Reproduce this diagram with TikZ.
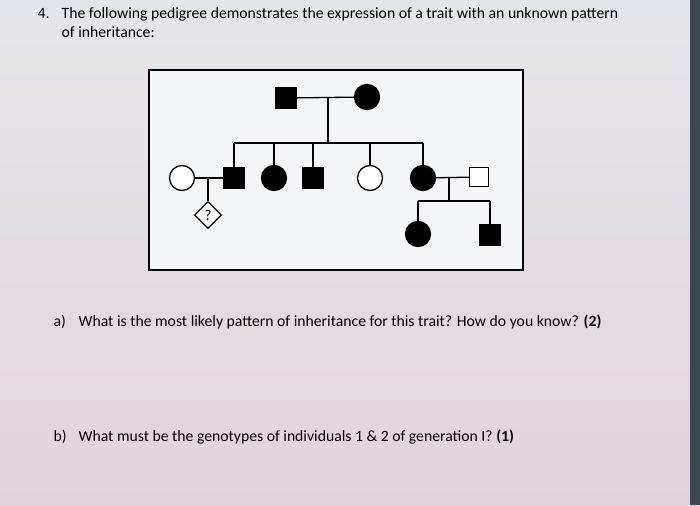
\documentclass[tikz,border=0pt]{standalone}
\usepackage{fontspec}
\setmainfont{Carlito}
\usepackage{tikz}
\usetikzlibrary{shapes.geometric}
\definecolor{paperTop}{RGB}{228,229,234}
\definecolor{paperBot}{RGB}{226,212,220}
\definecolor{pageEdge}{RGB}{58,72,78}
\tikzset{
  male/.style={draw=black,line width=1.3pt,rectangle,minimum size=20pt,inner sep=0pt},
  female/.style={draw=black,line width=1.3pt,circle,minimum size=25pt,inner sep=0pt},
  affected/.style={fill=black},
  normal/.style={fill=white},
  unknown/.style={draw=black,line width=1.1pt,diamond,fill=white,minimum width=27pt,minimum height=27pt,inner sep=0pt,font=\fontsize{15}{15}\selectfont},
  qtext/.style={anchor=base west,inner sep=0pt,font=\fontsize{15.7}{18}\selectfont}
}
\begin{document}
\begin{tikzpicture}[x=1pt,y=-1pt,line width=1.3pt]
	\useasboundingbox (0,0) rectangle (700,505);
	\shade[top color=paperTop,bottom color=paperBot] (0,0) rectangle (700,505);
	\fill[pageEdge] (690,0) rectangle (700,505);
	% question text
	\node[qtext] (num) at (37,19) {4.};
	\node[qtext] (q1) at (61,19) {The following pedigree demonstrates the expression of a trait with an unknown pattern};
	\node[qtext] (q2) at (61,38) {of inheritance:};
	\node[qtext] (qa) at (53,326) {a)};
	\node[qtext] (qatext) at (78,326) {What is the most likely pattern of inheritance for this trait? How do you know? \textbf{(2)}};
	\node[qtext] (qb) at (53,441) {b)};
	\node[qtext] (qbtext) at (78,441) {What must be the genotypes of individuals 1 \& 2 of generation I? \textbf{(1)}};
	% frame
	\draw[line width=1.8pt,fill=white!60!paperTop] (149,70) rectangle (523,270);
	% generation I
	\node[male,affected] (I1) at (286,98) {};
	\node[female,affected] (I2) at (367,97) {};
	% generation II
	\node[female,normal] (II1) at (182,178) {};
	\node[male,affected] (II2) at (234,178) {};
	\node[female,affected] (II3) at (274,178) {};
	\node[male,affected] (II4) at (313,178) {};
	\node[female,normal] (II5) at (370,178) {};
	\node[female,affected] (II6) at (423,178) {};
	\node[male,normal,minimum size=19pt] (II7) at (479,177) {};
	% generation III
	\node[unknown] (III1) at (208,215) {?};
	\node[female,affected] (III2) at (418,234) {};
	\node[male,affected] (III3) at (490,235) {};
	% lines of descent
	\coordinate (m1) at (328,98);
	\coordinate (s1) at (328,143);
	\coordinate (m2) at (208,178);
	\coordinate (m3) at (449,178);
	\coordinate (s3) at (449,201);
	\draw (I1) -- (I2);
	\draw (m1) -- (s1);
	\draw (II2.north |- s1) -- (II6.north |- s1);
	\foreach \kid in {II2,II3,II4,II5,II6}
		\draw (\kid.north |- s1) -- (\kid);
	\draw (II1) -- (II2);
	\draw (m2) -- (III1);
	\draw (II6) -- (II7);
	\draw (m3) -- (s3);
	\draw (III2.north |- s3) -- (III3.north |- s3);
	\draw (III2.north |- s3) -- (III2);
	\draw (III3.north |- s3) -- (III3);
\end{tikzpicture}
\end{document}
